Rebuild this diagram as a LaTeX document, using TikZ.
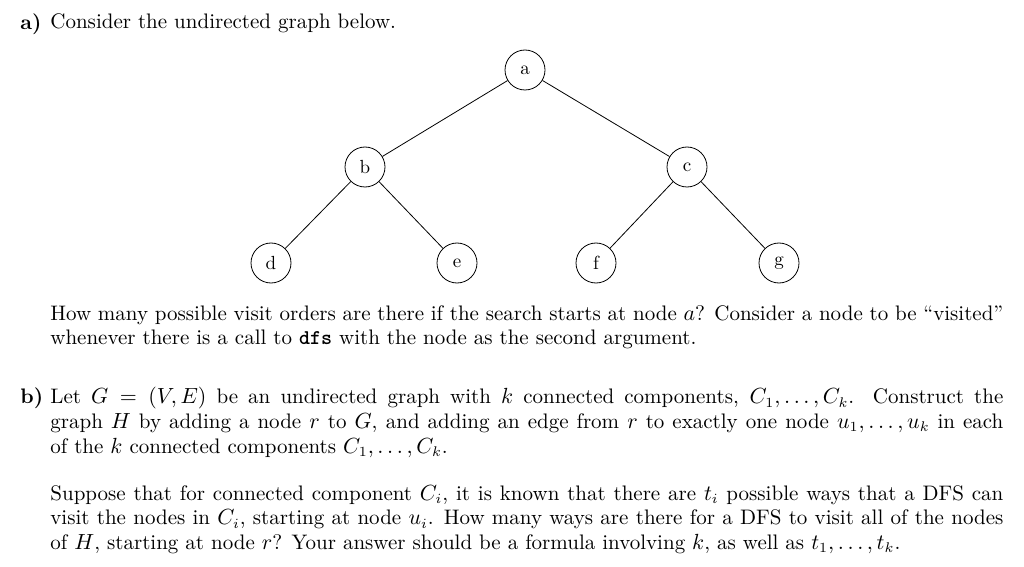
\documentclass[tikz,border=0pt]{standalone}
\begin{document}
\begin{tikzpicture}[x=0.5pt,y=-0.5pt,
  vtx/.style={draw,circle,minimum size=20pt,inner sep=0pt,font=\fontsize{9.5}{11}\selectfont},
  para/.style={anchor=north west,inner sep=0pt,text width=476.5pt,align=justify,font=\fontsize{10.5}{12.3}\selectfont},
  lbl/.style={anchor=north west,inner sep=0pt,font=\fontsize{10.5}{12.3}\selectfont}]
\useasboundingbox (0,0) rectangle (1024,567);
\node[lbl] (la) at (20,13) {\textbf{a)}};
\node[lbl] (lat) at (50,13) {Consider the undirected graph below.};
\node[vtx] (a) at (525,70) {a};
\node[vtx] (b) at (365,167) {b};
\node[vtx] (c) at (687,167) {c};
\node[vtx] (d) at (271,263) {d};
\node[vtx] (e) at (457,263) {e};
\node[vtx] (f) at (596,263) {f};
\node[vtx] (g) at (779,263) {g};
\draw (a)--(b) (a)--(c) (b)--(d) (b)--(e) (c)--(f) (c)--(g);
\node[para] (pa) at (50,305) {How many possible visit orders are there if the search starts at node $a$? Consider a node to be ``visited'' whenever there is a call to \texttt{\textbf{dfs}} with the node as the second argument.};
\node[lbl] (lb) at (20,387) {\textbf{b)}};
\node[para] (pb) at (50,387) {Let $G=(V,E)$ be an undirected graph with $k$ connected components, $C_1,\ldots,C_k$. Construct the\linebreak graph $H$ by adding a node $r$ to $G$, and adding an edge from $r$ to exactly one node $u_1,\ldots,u_k$ in each\linebreak of the $k$ connected components $C_1,\ldots,C_k$.};
\node[para] (pc) at (50,485) {Suppose that for connected component $C_i$, it is known that there are $t_i$ possible ways that a DFS can visit the nodes in $C_i$, starting at node $u_i$. How many ways are there for a DFS to visit all of the nodes of $H$, starting at node $r$? Your answer should be a formula involving $k$, as well as $t_1,\ldots,t_k$.};
\end{tikzpicture}
\end{document}
